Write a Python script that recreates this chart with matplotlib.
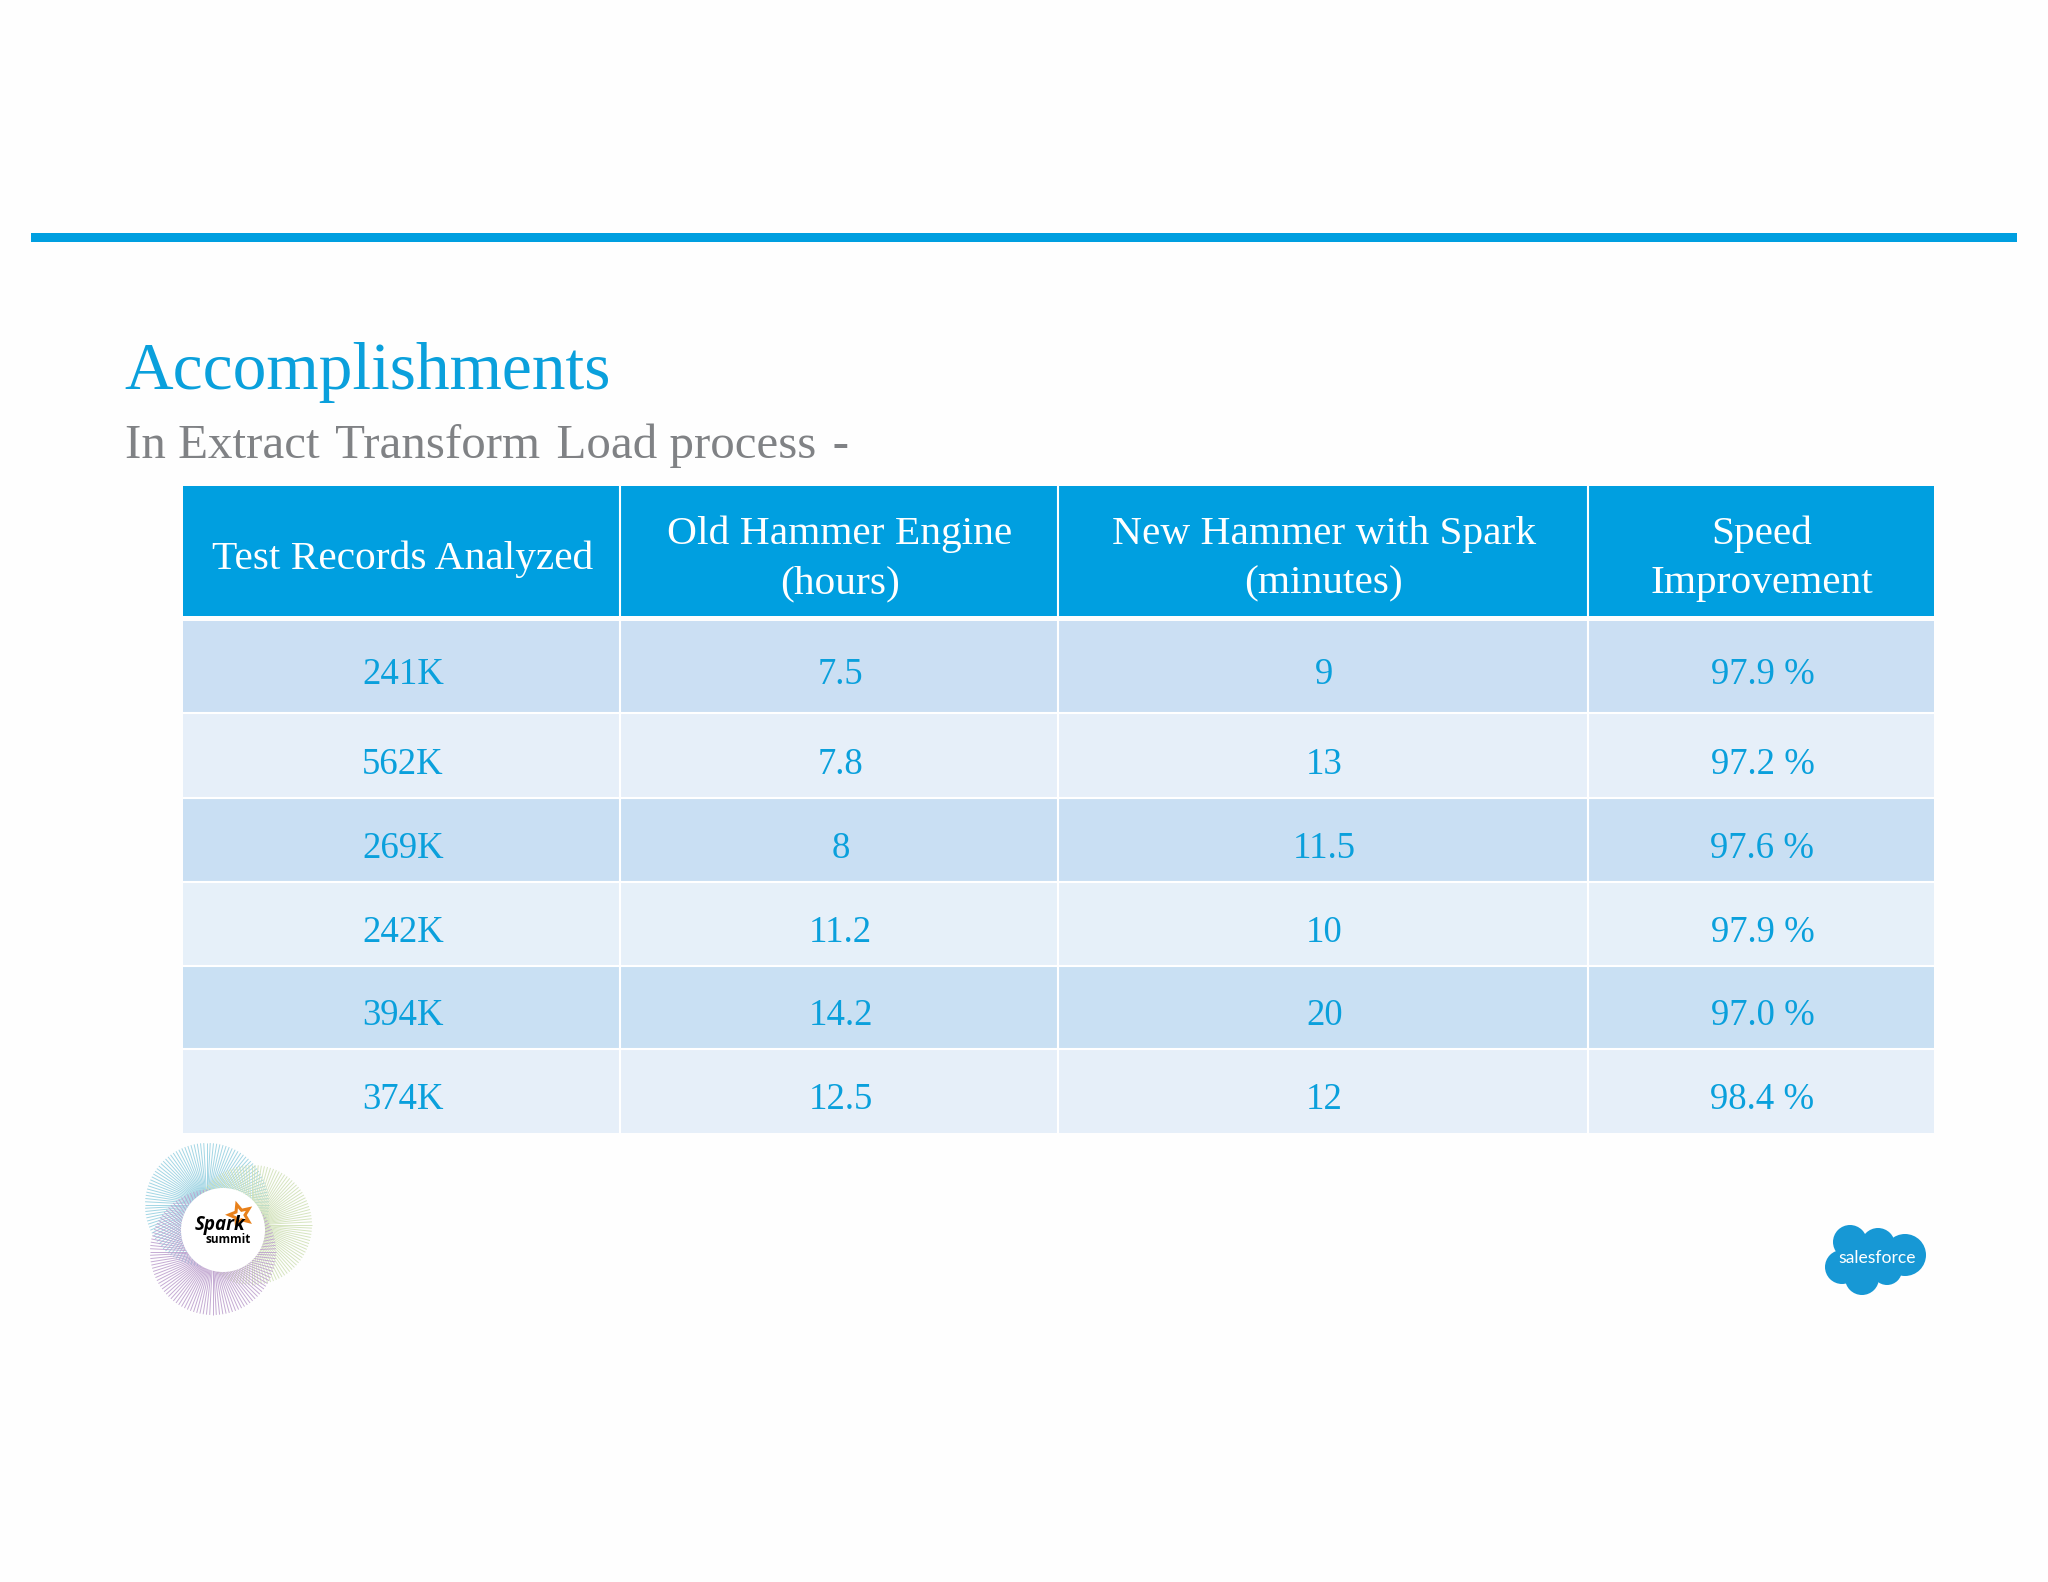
import numpy as np
import matplotlib
matplotlib.use("Agg")
import matplotlib.pyplot as plt
from matplotlib.patches import Rectangle, Circle, Polygon
from matplotlib.collections import LineCollection

title = "Accomplishments"
subtitle = "In Extract\u200a Transform\u200a Load process\u200a -"
headers = ["Test Records Analyzed", "Old Hammer Engine\n(hours)",
           "New Hammer with Spark\n(minutes)", "Speed\nImprovement"]
records = ["241K", "562K", "269K", "242K", "394K", "374K"]
old_hours = ["7.5", "7.8", "8", "11.2", "14.2", "12.5"]
new_minutes = ["9", "13", "11.5", "10", "20", "12"]
speed = ["97.9 %", "97.2 %", "97.6 %", "97.9 %", "97.0 %", "98.4 %"]

col_edges = [183, 620, 1058, 1588, 1934]
row_edges = [621, 713, 798, 882, 966, 1049, 1133]
row_colors = ["#cbdff3", "#e6eff9", "#c9dff3", "#e6f0f9", "#c9e0f3", "#e6eff9"]
BLUE = "#009fe0"
TXT = "#0aa0dc"
GRAY = "#808285"
SERIF = "Liberation Serif"

fig = plt.figure(figsize=(20.48, 15.82), dpi=100, facecolor="#fefefe")
ax = fig.add_axes([0, 0, 1, 1])
ax.set_xlim(0, 2048)
ax.set_ylim(1582, 0)
ax.axis("off")

ax.add_patch(Rectangle((31, 233), 1986, 9, fc=BLUE, ec="none"))
ax.text(124, 389, title, family=SERIF, fontsize=48.5, color=TXT, va="baseline")
ax.text(125, 458, subtitle, family=[SERIF, "DejaVu Serif"], fontsize=35.3, color=GRAY, va="baseline")

# header
for i, h in enumerate(headers):
    x0, x1 = col_edges[i], col_edges[i + 1]
    ax.add_patch(Rectangle((x0, 486), x1 - x0, 130, fc=BLUE, ec="none"))
    lines = h.split("\n")
    cx = (x0 + x1) / 2 + 1
    if len(lines) == 1:
        ax.text(cx, 569, lines[0], family=SERIF, fontsize=29.8, color="white", ha="center", va="baseline")
    else:
        ax.text(cx, 544, lines[0], family=SERIF, fontsize=29.8, color="white", ha="center", va="baseline")
        ax.text(cx, 593, lines[1], family=SERIF, fontsize=29.8, color="white", ha="center", va="baseline")

# body
columns = [records, old_hours, new_minutes, speed]
baselines = [684, 774, 858, 942, 1025, 1109]
for r in range(len(records)):
    for c, col in enumerate(columns):
        x0, x1 = col_edges[c], col_edges[c + 1]
        ax.add_patch(Rectangle((x0, row_edges[r]), x1 - x0, row_edges[r + 1] - row_edges[r],
                               fc=row_colors[r], ec="none"))
        ax.text((x0 + x1) / 2 + 1.5, baselines[r], col[r], family=SERIF, fontsize=26.5, color=TXT,
                ha="center", va="baseline")

# white grid lines
for x in col_edges[1:-1]:
    ax.plot([x, x], [486, 1133], color="white", lw=1.5, solid_capstyle="butt")
for y in row_edges[1:-1]:
    ax.plot([183, 1934], [y, y], color="white", lw=1.5, solid_capstyle="butt")

# Spark Summit logo
def burst(cx, cy, r, color, n=120):
    a = np.linspace(0, 2 * np.pi, n, endpoint=False)
    segs = [[(cx + 12 * np.cos(t), cy + 12 * np.sin(t)),
             (cx + r * np.cos(t), cy + r * np.sin(t))] for t in a]
    ax.add_collection(LineCollection(segs, colors=color, linewidths=0.7, alpha=0.85))

burst(207, 1205, 62, "#93cfe0")
burst(252, 1225, 60, "#cfe0b5")
burst(213, 1252, 63, "#bb9dcc")
ax.add_patch(Circle((223, 1230), 42, fc="white", ec="none", zorder=3))
ang = np.linspace(np.pi / 2, np.pi / 2 + 2 * np.pi, 11)[:-1]
rad = np.array([11, 5] * 5)
star = np.c_[240 + rad * np.cos(ang + 0.3), 1215 - rad * np.sin(ang + 0.3)]
ax.add_patch(Polygon(star, closed=True, fc="white", ec="#e8801a", lw=2.2, zorder=4))
ax.text(219.5, 1230, "Spark", family="Open Sans", fontweight="bold", style="italic", fontsize=13.5,
        color="black", ha="center", va="baseline", zorder=5)
ax.text(228, 1243, "summit", family="Open Sans", fontweight="bold", fontsize=8.5,
        color="black", ha="center", va="baseline", zorder=5)

# Salesforce logo
CLOUD = "#1798d5"
for x, y, r in [(1842, 1267, 17), (1850, 1242, 17), (1878, 1245, 17), (1905, 1255, 21),
                (1862, 1278, 17), (1887, 1270, 15), (1872, 1258, 24), (1855, 1262, 20)]:
    ax.add_patch(Circle((x, y), r, fc=CLOUD, ec="none", zorder=3))
ax.text(1877, 1263, "salesforce", family="Lato", fontsize=12.6, color="white",
        ha="center", va="baseline", zorder=5)

fig.savefig("out.png", dpi=100, facecolor=fig.get_facecolor())
